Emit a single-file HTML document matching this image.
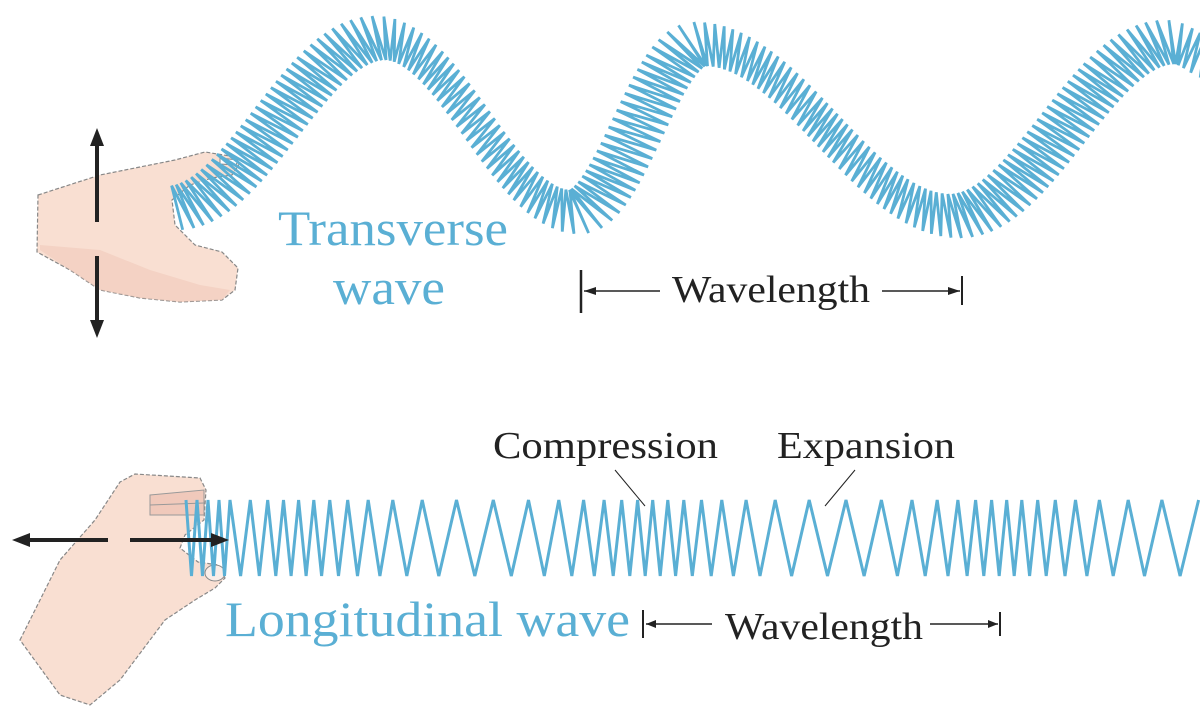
<!DOCTYPE html>
<html><head><meta charset="utf-8"><style>
html,body{margin:0;padding:0;background:#fff;width:1200px;height:715px;overflow:hidden}
svg{display:block}
.b{font-family:"Liberation Serif",serif;fill:#5aafd4}
.k{font-family:"Liberation Serif",serif;fill:#222}
</style></head><body>
<svg id="s" width="1200" height="715" viewBox="0 0 1200 715">
<!-- top hand -->
<path d="M38 195 L100 175 L175 160 L205 152 L230 156 L240 163 L232 175 L212 178 L190 185 L172 200 L175 225 L195 245 L222 252 L238 268 L235 290 L222 300 L180 302 L140 298 L100 290 L70 270 L37 252 Z" fill="#f9dfd2" stroke="#888" stroke-width="1.2" stroke-dasharray="4 2"/>
<path d="M220 158 L238 160 L236 165 L220 164 Z" fill="#fff" stroke="#888" stroke-width="1"/>
<path d="M40 250 L70 270 L100 290 L140 298 L180 302 L222 300 L230 290 L200 285 L150 270 L100 250 L40 245Z" fill="#f0c9bb" opacity="0.6"/>
<!-- bottom hand -->
<path d="M20 640 L60 560 L95 520 L120 482 L135 474 L200 478 L206 490 L204 520 L185 535 L180 548 L198 562 L218 565 L225 578 L215 588 L195 600 L165 620 L120 680 L90 705 L60 695 Z" fill="#f9dfd2" stroke="#888" stroke-width="1.2" stroke-dasharray="4 2"/>
<path d="M150 495 L204 490 L204 515 L150 515Z" fill="#f0c9bb" stroke="#999" stroke-width="1"/>
<path d="M150 505 L204 503" stroke="#999" stroke-width="1"/>
<ellipse cx="215" cy="573" rx="10" ry="8" fill="#fbeee8" stroke="#888" stroke-width="1"/>
<g id="coils" fill="none" stroke="#5aafd4" stroke-width="3"></g>
<!-- arrows -->
<line x1="97" y1="142" x2="97" y2="222" stroke="#222" stroke-width="4"/>
<line x1="97" y1="256" x2="97" y2="322" stroke="#222" stroke-width="4"/>
<polygon points="97,128 90,146 104,146" fill="#222"/>
<polygon points="97,338 90,320 104,320" fill="#222"/>
<line x1="26" y1="540" x2="108" y2="540" stroke="#222" stroke-width="4"/>
<line x1="130" y1="540" x2="215" y2="540" stroke="#222" stroke-width="4"/>
<polygon points="12,540 30,533 30,547" fill="#222"/>
<polygon points="229,540 211,533 211,547" fill="#222"/>
<!-- labels -->
<text class="b" x="278" y="245" font-size="50" textLength="230" lengthAdjust="spacingAndGlyphs">Transverse</text>
<text class="b" x="333" y="304" font-size="50" textLength="112" lengthAdjust="spacingAndGlyphs">wave</text>
<text class="b" x="225" y="636" font-size="50" textLength="405" lengthAdjust="spacingAndGlyphs">Longitudinal wave</text>
<text class="k" x="672" y="302" font-size="38" textLength="198" lengthAdjust="spacingAndGlyphs">Wavelength</text>
<text class="k" x="725" y="639" font-size="38" textLength="198" lengthAdjust="spacingAndGlyphs">Wavelength</text>
<text class="k" x="493" y="458" font-size="38" textLength="225" lengthAdjust="spacingAndGlyphs">Compression</text>
<text class="k" x="777" y="458" font-size="38" textLength="178" lengthAdjust="spacingAndGlyphs">Expansion</text>
<g stroke="#222" stroke-width="1.5">
<line x1="581" y1="270" x2="581" y2="313" stroke-width="2.5"/>
<line x1="962" y1="276" x2="962" y2="305" stroke-width="2"/>
<line x1="584" y1="291" x2="660" y2="291"/>
<line x1="882" y1="291" x2="960" y2="291"/>
<line x1="643" y1="610" x2="643" y2="638" stroke-width="2"/>
<line x1="1000" y1="612" x2="1000" y2="636" stroke-width="2"/>
<line x1="646" y1="624" x2="712" y2="624"/>
<line x1="930" y1="624" x2="998" y2="624"/>
<line x1="615" y1="470" x2="645" y2="506" stroke-width="1"/>
<line x1="855" y1="470" x2="825" y2="506" stroke-width="1"/>
</g>
<polygon points="584,291 596,287 596,295" fill="#222"/>
<polygon points="960,291 948,287 948,295" fill="#222"/>
<polygon points="646,624 656,620 656,628" fill="#222"/>
<polygon points="998,624 988,620 988,628" fill="#222"/>
</svg>
<script>
(function(){
var g=document.getElementById('coils'),NS='http://www.w3.org/2000/svg';
function add(d,w){var p=document.createElementNS(NS,'path');p.setAttribute('d',d);if(w)p.setAttribute('stroke-width',w);g.appendChild(p);}
var K=[[172,208],[380,38],[575,212],[700,44],[955,216],[1170,42],[1215,60]];
function cy(x){for(var i=0;i<K.length-1;i++){if(x<=K[i+1][0]){var t=(x-K[i][0])/(K[i+1][0]-K[i][0]);return K[i][1]+(K[i+1][1]-K[i][1])*(1-Math.cos(Math.PI*t))/2;}}return K[K.length-1][1];}
var x=172,px=172,py=cy(172),acc=0,d='',side=1,A=22;
while(x<1205){x+=0.5;var y=cy(x);acc+=Math.hypot(x-px,y-py);px=x;py=y;
 if(acc>=3.6){acc=0;var dx=0.5,dy=cy(x+0.5)-cy(x-0.5);var L=Math.hypot(2*dx,dy);var nx=-dy/L,ny=2*dx/L;
  var qx=x+side*A*nx+side*5,qy=y+side*A*ny;d+=(d?'L':'M')+qx.toFixed(1)+' '+qy.toFixed(1);side=-side;}}
add(d,2.8);
var X=186,s=1,d2='M186 500';
while(X<1192){var p=26-11*Math.cos(2*Math.PI*(X-648)/355);if(X<225)p=11;X+=p/2;s=-s;d2+='L'+X.toFixed(1)+' '+(s<0?576:500);}
add(d2,3);
})();
</script>
</body></html>
